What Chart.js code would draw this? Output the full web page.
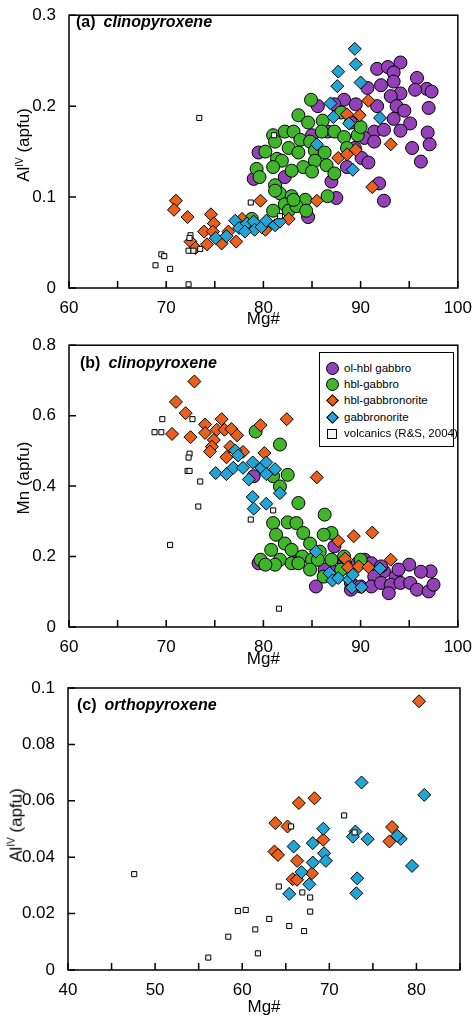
<!DOCTYPE html>
<html>
<head>
<meta charset="utf-8">
<script src="https://cdn.jsdelivr.net/npm/chart.js@4/dist/chart.umd.min.js"></script>
<style>
  body { margin: 0; background: #fff; font-family: "Liberation Sans", Arial, sans-serif; }
  #wrap { position: relative; width: 474px; height: 1018px; }
  .panel { position: absolute; left: 0; width: 474px; }
  .lbl { position: absolute; font-weight: bold; font-size: 16px; color: #000; white-space: nowrap; }
  .lbl i { margin-left: 8px; }
  .ytitle { position: absolute; font-size: 17px; white-space: nowrap; transform: translate(-50%, -50%) rotate(-90deg); }
  .ytitle sup { font-size: 10px; }
  #legend { position: absolute; left: 319px; top: 352px; width: 135px; height: 95px; border: 1px solid #000; background: #fff; font-size: 11.5px; box-sizing: border-box; }
  .row { position: absolute; left: 6px; height: 16px; line-height: 16px; white-space: nowrap; }
  .sym { display: inline-block; vertical-align: middle; margin-right: 5px; border: 1px solid #000; box-sizing: border-box; }
</style>
</head>
<body>
<div id="wrap">
  <canvas id="ca" class="panel" style="top:0px;height:330px" width="474" height="330"></canvas>
  <canvas id="cb" class="panel" style="top:330px;height:340px" width="474" height="340"></canvas>
  <canvas id="cc" class="panel" style="top:670px;height:348px" width="474" height="348"></canvas>

  <div class="lbl" style="left:76px;top:13px">(a)<i>clinopyroxene</i></div>
  <div class="lbl" style="left:80px;top:354px">(b)<i>clinopyroxene</i></div>
  <div class="lbl" style="left:77px;top:696px">(c)<i>orthopyroxene</i></div>

  <div class="ytitle" style="left:24px;top:145px">Al<sup>IV</sup> (apfu)</div>
  <div class="ytitle" style="left:24px;top:478px">Mn (apfu)</div>
  <div class="ytitle" style="left:16px;top:825px">Al<sup>IV</sup> (apfu)</div>

  <div id="legend">
    <div class="row" style="top:7px"><span class="sym" style="width:13px;height:13px;border-radius:50%;background:#9440b8"></span>ol-hbl gabbro</div>
    <div class="row" style="top:23px"><span class="sym" style="width:13px;height:13px;border-radius:50%;background:#40b52c"></span>hbl-gabbro</div>
    <div class="row" style="top:39px"><span class="sym" style="width:9px;height:9px;margin-left:2px;margin-right:7px;transform:rotate(45deg);background:#e8601c"></span>hbl-gabbronorite</div>
    <div class="row" style="top:56px"><span class="sym" style="width:9px;height:9px;margin-left:2px;margin-right:7px;transform:rotate(45deg);background:#22a4d4"></span>gabbronorite</div>
    <div class="row" style="top:72px"><span class="sym" style="width:10px;height:10px;margin-left:1px;margin-right:7px;background:#f2f2f2"></span>volcanics (R&amp;S, 2004)</div>
  </div>
</div>
<script>
// (a) clinopyroxene: Mg# vs AlIV
const aPurple = [[94.1,0.248],[91.7,0.241],[92.8,0.243],[93.4,0.237],[95.8,0.231],[96.8,0.219],[97.3,0.216],[95.6,0.218],[90.7,0.220],[92.1,0.223],[93.4,0.227],[94.1,0.214],[93.1,0.211],[88.3,0.207],[89.5,0.202],[85.6,0.200],[87.3,0.202],[91.7,0.200],[93.7,0.200],[97.0,0.198],[94.5,0.195],[93.4,0.186],[95.1,0.181],[91.4,0.172],[92.4,0.174],[94.1,0.173],[96.9,0.171],[90.4,0.165],[91.4,0.161],[97.1,0.158],[95.3,0.154],[89.4,0.154],[90.1,0.143],[90.8,0.138],[96.2,0.139],[88.6,0.133],[87.0,0.117],[91.9,0.115],[92.4,0.096],[87.5,0.099],[79.5,0.149],[79.0,0.120],[82.2,0.122],[84.6,0.078],[85.0,0.168],[86.6,0.172],[89.0,0.182]];
const aGreen = [[84.9,0.207],[83.6,0.190],[84.6,0.182],[86.1,0.184],[88.0,0.193],[81.0,0.168],[80.2,0.150],[81.2,0.161],[82.2,0.172],[83.1,0.172],[83.8,0.163],[84.8,0.161],[86.0,0.172],[87.3,0.172],[88.3,0.166],[89.7,0.168],[90.0,0.177],[88.6,0.154],[82.6,0.154],[83.6,0.149],[85.3,0.151],[86.3,0.149],[81.4,0.142],[81.9,0.140],[84.1,0.133],[85.3,0.140],[86.5,0.135],[87.3,0.126],[82.9,0.129],[85.0,0.128],[79.3,0.131],[79.6,0.122],[81.0,0.133],[81.2,0.113],[81.7,0.104],[82.9,0.101],[84.3,0.097],[86.6,0.101],[82.2,0.092],[82.6,0.085],[81.0,0.085],[83.4,0.090],[84.4,0.085],[78.8,0.076],[83.1,0.097],[81.2,0.107]];
const aOrange = [[71.0,0.096],[70.8,0.086],[72.2,0.078],[74.6,0.081],[74.9,0.071],[73.9,0.062],[74.8,0.062],[72.5,0.051],[73.0,0.044],[74.2,0.048],[75.7,0.049],[76.4,0.062],[77.2,0.051],[77.8,0.076],[79.7,0.096],[80.2,0.064],[82.6,0.076],[85.5,0.096],[87.7,0.143],[88.6,0.147],[89.5,0.152],[88.6,0.191],[89.9,0.190],[90.8,0.206],[93.1,0.158],[91.2,0.111]];
const aBlue = [[89.4,0.263],[89.5,0.246],[87.7,0.238],[87.6,0.222],[90.0,0.226],[86.9,0.203],[87.2,0.188],[88.8,0.181],[92.0,0.187],[85.5,0.158],[89.2,0.130],[75.1,0.055],[76.2,0.057],[77.1,0.074],[77.5,0.066],[78.3,0.071],[79.0,0.073],[79.1,0.064],[79.8,0.067],[80.3,0.074],[81.2,0.069],[81.7,0.073],[78.1,0.062]];
const aGrey = [[73.4,0.187],[81.1,0.168],[78.7,0.094],[81.7,0.079],[72.5,0.058],[72.4,0.055],[72.3,0.041],[72.8,0.041],[73.5,0.043],[69.5,0.037],[69.8,0.035],[68.9,0.025],[70.4,0.021],[72.3,0.004]];

// (b) clinopyroxene: Mg# vs Mn
const bPurple = [[95.0,0.177],[97.2,0.158],[96.2,0.157],[93.6,0.143],[92.4,0.158],[91.4,0.143],[90.4,0.191],[91.1,0.181],[89.7,0.181],[88.3,0.181],[87.3,0.229],[87.0,0.163],[89.0,0.125],[90.0,0.115],[91.1,0.115],[92.1,0.125],[93.1,0.120],[94.1,0.125],[95.1,0.125],[95.8,0.106],[97.0,0.101],[97.5,0.120],[92.9,0.096],[89.0,0.106],[85.4,0.115],[86.3,0.163],[79.5,0.181],[79.0,0.428],[83.6,0.191],[92.1,0.172],[93.9,0.163]];
const bGreen = [[79.2,0.555],[81.7,0.518],[81.0,0.428],[82.5,0.432],[81.7,0.399],[83.6,0.352],[86.3,0.319],[81.0,0.295],[82.5,0.297],[83.4,0.295],[87.0,0.267],[86.2,0.262],[81.3,0.262],[84.1,0.267],[82.2,0.237],[84.8,0.237],[79.7,0.191],[80.8,0.219],[81.7,0.191],[82.9,0.219],[84.0,0.200],[85.0,0.191],[85.8,0.214],[87.0,0.191],[88.3,0.200],[81.2,0.177],[82.9,0.181],[84.8,0.163],[86.2,0.143],[88.0,0.163],[90.0,0.191],[85.6,0.191],[80.2,0.177],[83.6,0.181]];
const bOrange = [[72.9,0.697],[71.0,0.639],[72.0,0.607],[70.6,0.548],[72.5,0.539],[74.0,0.575],[74.0,0.551],[75.2,0.560],[75.7,0.590],[74.9,0.531],[76.0,0.560],[76.7,0.562],[77.3,0.544],[74.7,0.512],[74.5,0.498],[76.2,0.482],[76.6,0.512],[77.9,0.497],[79.7,0.573],[80.1,0.494],[82.4,0.590],[85.5,0.425],[87.7,0.244],[89.3,0.258],[91.2,0.268],[88.4,0.194],[88.7,0.170],[89.8,0.172],[90.8,0.170],[93.1,0.191]];
const bBlue = [[75.1,0.437],[76.2,0.434],[77.1,0.501],[77.4,0.487],[76.9,0.452],[77.9,0.452],[78.9,0.467],[78.5,0.419],[79.8,0.452],[80.3,0.467],[81.2,0.448],[80.3,0.434],[81.7,0.380],[78.9,0.369],[79.0,0.336],[80.3,0.350],[85.4,0.214],[86.8,0.153],[87.1,0.132],[87.7,0.139],[88.8,0.134],[89.2,0.148],[89.1,0.112],[90.1,0.113],[92.0,0.166]];
const bGrey = [[68.8,0.553],[69.5,0.553],[69.6,0.590],[72.7,0.590],[72.4,0.492],[72.3,0.481],[72.2,0.443],[72.4,0.443],[73.5,0.413],[73.3,0.342],[70.4,0.233],[78.7,0.305],[81.0,0.331],[81.6,0.052]];

// (c) orthopyroxene: Mg# vs AlIV
const cOrange = [[80.3,0.0953],[66.5,0.0592],[68.3,0.0609],[63.8,0.0521],[65.2,0.0509],[69.3,0.0462],[63.7,0.0420],[64.1,0.0408],[66.3,0.0387],[68.0,0.0343],[65.8,0.0322],[66.3,0.0320],[77.2,0.0507],[76.9,0.0456]];
const cBlue = [[73.7,0.0665],[80.9,0.0621],[69.3,0.0501],[73.0,0.0491],[72.7,0.0473],[74.4,0.0464],[65.9,0.0438],[68.1,0.0450],[69.4,0.0414],[69.6,0.0387],[68.1,0.0381],[66.8,0.0347],[67.7,0.0304],[65.4,0.0270],[73.2,0.0325],[73.1,0.0272],[78.2,0.0465],[77.8,0.0476],[79.5,0.0369]];
const cGrey = [[47.6,0.0340],[71.7,0.0548],[65.6,0.0509],[72.9,0.0488],[64.2,0.0296],[66.9,0.0275],[67.8,0.0257],[67.8,0.0207],[59.5,0.0209],[60.4,0.0213],[63.1,0.0181],[61.5,0.0144],[65.4,0.0156],[67.1,0.0138],[58.4,0.0118],[61.8,0.0059],[56.1,0.0044]];

const xTicksCpx = [60, 70, 80, 90, 100];
const xTicksOpx = [40, 50, 60, 70, 80];

const FONT = "'Liberation Sans', Arial, sans-serif";
const pts = arr => arr.map(p => ({ x: p[0], y: p[1] }));

function ds(data, kind) {
  const st = {
    purple: { bg: '#9440b8', style: 'circle', r: 6.5, order: 5 },
    green:  { bg: '#40b52c', style: 'circle', r: 6.5, order: 4 },
    orange: { bg: '#e8601c', style: 'rectRot', r: 6.5, order: 3 },
    blue:   { bg: '#22a4d4', style: 'rectRot', r: 6.5, order: 2 },
    grey:   { bg: '#f2f2f2', style: 'rect', r: 3.6, order: 1 }
  }[kind];
  return {
    data: pts(data), backgroundColor: st.bg, borderColor: '#000', borderWidth: 1,
    pointStyle: st.style, pointRadius: st.r, pointHoverRadius: st.r, order: st.order
  };
}

// frame and inward ticks
const framePlugin = {
  id: 'frame',
  afterDraw(chart) {
    const { ctx, chartArea: a, scales } = chart;
    ctx.save();
    ctx.strokeStyle = '#000';
    ctx.lineWidth = 1.5;
    ctx.strokeRect(a.left, a.top, a.right - a.left, a.bottom - a.top);
    ctx.beginPath();
    const xs = scales.x;
    for (let v = xs.min; v <= xs.max + 1e-9; v += 5) {
      const px = xs.getPixelForValue(v);
      ctx.moveTo(px, a.bottom); ctx.lineTo(px, a.bottom - 7);
    }
    scales.y.ticks.forEach(t => {
      const py = scales.y.getPixelForValue(t.value);
      ctx.moveTo(a.left, py); ctx.lineTo(a.left + 7, py);
    });
    ctx.stroke();
    ctx.restore();
  }
};

function makeChart(id, datasets, opt) {
  return new Chart(document.getElementById(id), {
    type: 'scatter',
    data: { datasets },
    plugins: [framePlugin],
    options: {
      responsive: false, animation: false,
      layout: { padding: { left: 0, right: 474 - opt.right, top: opt.top, bottom: 0 } },
      plugins: { legend: { display: false }, tooltip: { enabled: false } },
      scales: {
        x: {
          min: opt.xmin, max: opt.xmax,
          afterBuildTicks: s => { s.ticks = opt.xticks.map(v => ({ value: v })); },
          afterFit: s => { s.height = opt.xh; },
          grid: { display: false },
          border: { display: false },
          ticks: { color: '#000', font: { family: FONT, size: 17 }, padding: 2, maxRotation: 0 },
          title: { display: true, text: 'Mg#', color: '#000', font: { family: FONT, size: 17 }, padding: 0 }
        },
        y: {
          min: 0, max: opt.ymax,
          ticks: { stepSize: opt.ystep, color: '#000', font: { family: FONT, size: 17 }, padding: 5,
                   callback: v => String(+v.toFixed(3)) },
          afterFit: s => { s.width = opt.left; },
          grid: { display: false },
          border: { display: false }
        }
      }
    }
  });
}

makeChart('ca', [ds(aGrey, 'grey'), ds(aBlue, 'blue'), ds(aOrange, 'orange'), ds(aGreen, 'green'), ds(aPurple, 'purple')],
  { left: 69, right: 461, top: 5, xh: 42, xmin: 60, xmax: 100, xticks: xTicksCpx, ymax: 0.3, ystep: 0.1 });
makeChart('cb', [ds(bGrey, 'grey'), ds(bBlue, 'blue'), ds(bOrange, 'orange'), ds(bGreen, 'green'), ds(bPurple, 'purple')],
  { left: 69, right: 461, top: 14, xh: 43, xmin: 60, xmax: 100, xticks: xTicksCpx, ymax: 0.8, ystep: 0.2 });
makeChart('cc', [ds(cGrey, 'grey'), ds(cBlue, 'blue'), ds(cOrange, 'orange')],
  { left: 68, right: 460, top: 18, xh: 48, xmin: 40, xmax: 85, xticks: xTicksOpx, ymax: 0.1, ystep: 0.02 });
</script>
</body>
</html>
